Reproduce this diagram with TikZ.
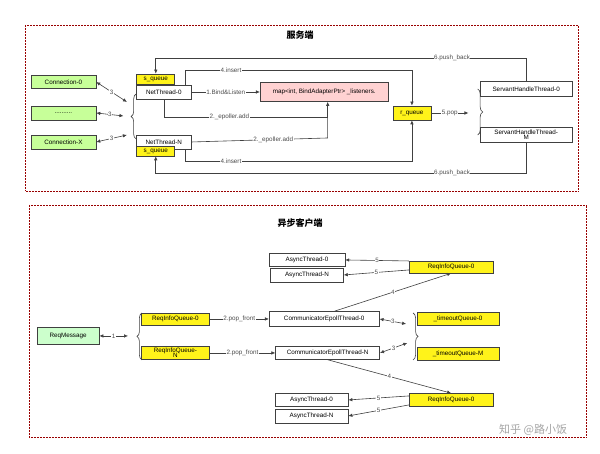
\documentclass[tikz,border=0pt]{standalone}
\usepackage{fontspec}
\setmainfont{Liberation Sans}
\newfontfamily\cjk{Noto Sans CJK SC}
\usetikzlibrary{arrows.meta,decorations.pathreplacing}
\begin{document}
\begin{tikzpicture}[x=1.154pt,y=-1pt,
 font=\fontsize{6.3}{7}\selectfont,
 box/.style={draw=black!75,line width=0.6pt,inner sep=1pt,align=center},
 wbox/.style={box,fill=white},
 ybox/.style={box,fill=yellow!90!white},
 gbox/.style={box,fill=green!40!lime!40},
 lgbox/.style={box,fill=green!20},
 pbox/.style={box,fill=pink!70},
 ln/.style={draw=black!75,line width=0.6pt},
 ar/.style={ln,-{Latex[length=4pt,width=3.5pt]}},
 dar/.style={ln,{Latex[length=4pt,width=3.5pt]}-{Latex[length=4pt,width=3.5pt]}},
 lb/.style={fill=white,inner sep=0.5pt,text=black!70},
 frame/.style={draw=red!60!black,densely dotted,line width=0.5pt},
 br/.style={ln,decorate,decoration={brace,amplitude=5pt}}]
\useasboundingbox (0,0) rectangle (520,454);
\fill[white] (0,0) rectangle (520,454);
% ---------- server ----------
\draw[frame] (22,25) rectangle (501,191);
\node[font=\cjk\bfseries\fontsize{9}{10}\selectfont] (t1) at (260,35) {服务端};
\node[gbox,minimum width=65,minimum height=13] (c0) at (55,82) {Connection-0};
\node[gbox,minimum width=65,minimum height=14] (cd) at (55,113) {..........};
\node[gbox,minimum width=65,minimum height=14] (cx) at (55,142) {Connection-X};
\node[ybox,minimum width=38,minimum height=10] (sq0) at (135,79) {s\_queue};
\node[wbox,minimum width=55,minimum height=14] (nt0) at (142,92) {NetThread-0};
\node[wbox,minimum width=55,minimum height=14] (ntn) at (142,142) {NetThread-N};
\node[ybox,minimum width=38,minimum height=10] (sqn) at (135,151) {s\_queue};
\node[pbox,minimum width=128,minimum height=19] (map) at (281,92) {map<int, BindAdapterPtr> \_listeners.};
\node[ybox,minimum width=38,minimum height=14] (rq) at (357,113) {r\_queue};
\node[wbox,minimum width=92,minimum height=15] (sh0) at (456,89) {ServantHandleThread-0};
\node[wbox,minimum width=92,minimum height=15,text width=88] (shm) at (456,135) {ServantHandleThread-\\[-2pt]M};
\draw[br] (118,139) -- (118,94);
\draw[br] (414,89) -- (414,135);
\draw[dar] (c0.east) -- node[lb]{3} (110,102);
\draw[dar] (cd.east) -- node[lb]{3} (107,116);
\draw[dar] (cx.east) -- node[lb]{3} (110,135);
\draw[ar] (nt0.east) -- node[lb]{1.Bind\&Listen} (map.west);
\draw[ar] (nt0.south) |- (284,117) node[lb,pos=0.7]{2.\_epoller.add} -- (map.south -| 284,0);
\draw[ln] (ntn.east) -- node[lb,pos=0.6]{2.\_epoller.add} (284,138) -- (284,117);
\draw[ar] (nt0.north -| 161,0) |- (357,70) node[lb,pos=0.6]{4.insert} -- (rq.north);
\draw[ar] (ntn.south -| 161,0) |- (357,161) node[lb,pos=0.6]{4.insert} -- (rq.south);
\draw[ar] (sh0.north) |- (135,58) node[lb,pos=0.6]{6.push\_back} -- (sq0.north);
\draw[ar] (shm.south) |- (135,173) node[lb,pos=0.6]{6.push\_back} -- (sqn.south);
\draw[ar] (rq.east) -- node[lb]{5.pop} (406,113);
% ---------- client ----------
\draw[frame] (25,205) rectangle (508,437);
\node[font=\cjk\bfseries\fontsize{9}{10}\selectfont] (t2) at (260,223) {异步客户端};
\node[wbox,minimum width=76,minimum height=13] (a0t) at (266,260) {AsyncThread-0};
\node[wbox,minimum width=73,minimum height=14] (ant) at (266,275) {AsyncThread-N};
\node[ybox,minimum width=84,minimum height=12] (rqt) at (391,267) {ReqInfoQueue-0};
\node[lgbox,minimum width=62,minimum height=17] (rm) at (59,336) {ReqMessage};
\node[ybox,minimum width=68,minimum height=12] (rq0) at (152,319) {ReqInfoQueue-0};
\node[ybox,minimum width=68,minimum height=13,text width=64] (rqn) at (152,353) {ReqInfoQueue-\\[-2pt]N};
\node[wbox,minimum width=110,minimum height=15] (ce0) at (281,319) {CommunicatorEpollThread-0};
\node[wbox,minimum width=104,minimum height=13] (cen) at (284,353) {CommunicatorEpollThread-N};
\node[ybox,minimum width=82,minimum height=13] (tq0) at (397,319) {\_timeoutQueue-0};
\node[ybox,minimum width=82,minimum height=13] (tqm) at (397,354) {\_timeoutQueue-M};
\node[ybox,minimum width=84,minimum height=13] (rqb) at (391,400) {ReqInfoQueue-0};
\node[wbox,minimum width=73,minimum height=13] (a0b) at (270,400) {AsyncThread-0};
\node[wbox,minimum width=73,minimum height=14] (anb) at (270,416) {AsyncThread-N};
\draw[br] (123,360) -- (123,313);
\draw[br] (358,313) -- (358,360);
\draw[dar] (rm.east) -- node[lb]{1} (111,336);
\draw[ar] (rq0.east) -- node[lb]{2.pop\_front} (ce0.west);
\draw[ar] (rqn.east) -- node[lb]{2.pop\_front} (cen.west);
\draw[dar] (ce0.east) -- node[lb]{3} (352,324);
\draw[dar] (cen.east) -- node[lb]{3} (353,343);
\draw[ar] (ce0.north -| 290,0) -- node[lb]{4} (rqt.south);
\draw[ar] (cen.south) -- node[lb]{4} (rqb.north);
\draw[ar] (rqt.west |- 0,261) -- node[lb]{5} (a0t.east);
\draw[ar] (rqt.west |- 0,270) -- node[lb]{5} (ant.east);
\draw[ar] (rqb.west |- 0,396) -- node[lb]{5} (a0b.east);
\draw[ar] (rqb.west |- 0,405) -- node[lb]{5} (anb.east);
\node[font=\cjk\fontsize{11}{12}\selectfont,text=black!35] (wm) at (462,430) {知乎 @路小饭};
\end{tikzpicture}
\end{document}
